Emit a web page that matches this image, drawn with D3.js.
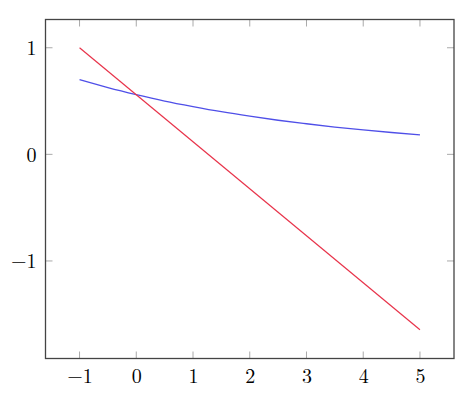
<!DOCTYPE html>
<html><head><meta charset="utf-8">
<script src="https://cdn.jsdelivr.net/npm/d3@7"></script>
<style>body{margin:0;background:#fff}</style>
</head><body>
<svg id="c" width="474" height="402"></svg>
<script>
const xTicks = [-1, 0, 1, 2, 3, 4, 5];
const yTicks = [-1, 0, 1];
const blueX = [-1, -0.5, 0, 0.5, 1, 1.5, 2, 2.5, 3, 3.5, 4, 4.5, 5];
const blueY = [0.70, 0.626, 0.56, 0.50, 0.448, 0.40, 0.358, 0.32, 0.287, 0.256, 0.229, 0.205, 0.183];
const redX = [-1, 5];
const redY = [1.0, -1.645];

const svg = d3.select("#c");
const L = 45.5, R = 454, T = 19.5, B = 358.5;
const x = d3.scaleLinear().domain([-1.6, 5.6]).range([L, R]);
const y = d3.scaleLinear().domain([-1.915, 1.265]).range([B, T]);
const font = "'Latin Modern Roman','CMU Serif','DejaVu Serif',serif";

// inner ticks (bottom/top, left/right)
const tk = 7, tickCol = "#aaa";
const g = svg.append("g");
xTicks.forEach(v => {
  g.append("line").attr("x1", x(v)).attr("x2", x(v)).attr("y1", B).attr("y2", B - tk).attr("stroke", tickCol).attr("stroke-width", 1);
  g.append("line").attr("x1", x(v)).attr("x2", x(v)).attr("y1", T).attr("y2", T + tk).attr("stroke", tickCol).attr("stroke-width", 1);
});
yTicks.forEach(v => {
  g.append("line").attr("y1", y(v)).attr("y2", y(v)).attr("x1", L).attr("x2", L + tk).attr("stroke", tickCol).attr("stroke-width", 1);
  g.append("line").attr("y1", y(v)).attr("y2", y(v)).attr("x1", R).attr("x2", R - tk).attr("stroke", tickCol).attr("stroke-width", 1);
});

// axes via d3 (labels only)
const xAxis = svg.append("g").attr("transform", `translate(0,${B})`)
  .call(d3.axisBottom(x).tickValues(xTicks).tickSize(0).tickPadding(10).tickFormat(d => d < 0 ? "\u2212" + Math.abs(d) : d));
const yAxis = svg.append("g").attr("transform", `translate(${L},0)`)
  .call(d3.axisLeft(y).tickValues(yTicks).tickSize(0).tickPadding(9).tickFormat(d => d < 0 ? "\u2212" + Math.abs(d) : d));
[xAxis, yAxis].forEach(a => {
  a.select(".domain").remove();
  a.selectAll("text").attr("font-family", font).attr("font-size", 20).attr("fill", "#000");
});
yAxis.selectAll("text").attr("dy", "0.35em");

// lines
const line = d3.line().x(d => x(d[0])).y(d => y(d[1])).curve(d3.curveMonotoneX);
svg.append("path").datum(blueX.map((v, i) => [v, blueY[i]]))
  .attr("d", line).attr("fill", "none").attr("stroke", "#4f4fe8").attr("stroke-width", 1.3);
svg.append("path").datum(redX.map((v, i) => [v, redY[i]]))
  .attr("d", d3.line().x(d => x(d[0])).y(d => y(d[1]))).attr("fill", "none").attr("stroke", "#e8334a").attr("stroke-width", 1.2);

// frame
svg.append("rect").attr("x", L).attr("y", T).attr("width", R - L).attr("height", B - T)
  .attr("fill", "none").attr("stroke", "#444").attr("stroke-width", 1.3);
</script>
</body></html>
